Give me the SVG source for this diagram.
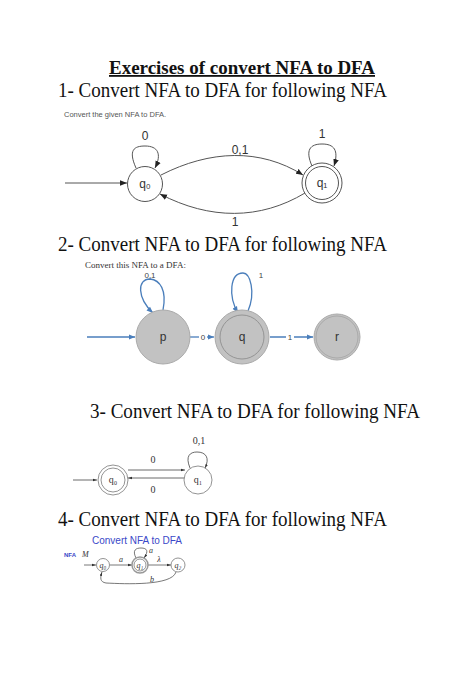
<svg xmlns="http://www.w3.org/2000/svg" width="465" height="700" viewBox="0 0 465 700">
<defs>
<style>
.h{font-family:"Liberation Serif","Times New Roman",serif;fill:#111;font-size:20px}
.t{font-family:"Liberation Serif","Times New Roman",serif;font-weight:bold;font-size:18px;fill:#111;text-decoration:underline}
.s1{font-family:"Liberation Sans",Arial,sans-serif;font-size:12px;fill:#333;text-anchor:middle}
.e1{fill:none;stroke:#555;stroke-width:1}
.n1{fill:#fff;stroke:#555;stroke-width:1}
.e2{fill:none;stroke:#4a7ebb;stroke-width:1.3}
.n2{fill:#c2c2c2;stroke:#aaa;stroke-width:1}
.s2{font-family:"Liberation Sans",Arial,sans-serif;font-size:8px;fill:#444;text-anchor:middle}
.e3{fill:none;stroke:#444;stroke-width:0.8}
.n3{fill:#fff;stroke:#777;stroke-width:0.8}
.s3{font-family:"Liberation Serif","Times New Roman",serif;font-size:10px;fill:#333;text-anchor:middle}
.e4{fill:none;stroke:#555;stroke-width:0.8}
.s4{font-family:"Liberation Serif","Times New Roman",serif;font-style:italic;font-size:8px;fill:#333;text-anchor:middle}
</style>
<marker id="a1" viewBox="0 0 10 10" refX="10" refY="5" markerWidth="7" markerHeight="7" orient="auto"><path d="M0,1 L10,5 L0,9 z" fill="#222"/></marker>
<marker id="a2" viewBox="0 0 10 10" refX="10" refY="5" markerWidth="5" markerHeight="5" orient="auto"><path d="M0,1 L10,5 L0,9 z" fill="#4a7ebb"/></marker>
<marker id="a3" viewBox="0 0 10 10" refX="10" refY="5" markerWidth="5" markerHeight="5" orient="auto"><path d="M0,2 L10,5 L0,8 z" fill="#333"/></marker>
</defs>
<rect width="465" height="700" fill="#fff"/>

<g id="headings">
<text class="t" x="109" y="74" textLength="266" lengthAdjust="spacingAndGlyphs">Exercises of convert NFA to DFA</text>
<text class="h" x="58" y="97" textLength="329" lengthAdjust="spacingAndGlyphs">1- Convert NFA to DFA for following NFA</text>
<text class="h" x="58" y="251" textLength="329" lengthAdjust="spacingAndGlyphs">2- Convert NFA to DFA for following NFA</text>
<text class="h" x="90" y="418" textLength="330" lengthAdjust="spacingAndGlyphs">3- Convert NFA to DFA for following NFA</text>
<text class="h" x="58" y="526" textLength="329" lengthAdjust="spacingAndGlyphs">4- Convert NFA to DFA for following NFA</text>
</g>

<!-- Diagram 1 -->
<g id="d1-caption"><text x="64" y="117" font-family="Liberation Sans, Arial, sans-serif" font-size="7.5" fill="#555">Convert the given NFA to DFA.</text></g>
<g id="d1-edges">
<line class="e1" x1="65" y1="183" x2="127" y2="183" marker-end="url(#a1)"/>
<path class="e1" d="M136,168 C128,150 134,146 145,146 C158,146 162,154 155,168" marker-end="url(#a1)"/>
<path class="e1" d="M161,175 C210,150 260,148 303,175" marker-end="url(#a1)"/>
<path class="e1" d="M305,193 C260,220 210,220 160,194" marker-end="url(#a1)"/>
<path class="e1" d="M312,166 C305,150 310,144 322,144 C334,144 339,150 334,166" marker-end="url(#a1)"/>
<text class="s1" x="145" y="140">0</text>
<text class="s1" x="240" y="154">0,1</text>
<text class="s1" x="235" y="226">1</text>
<text class="s1" x="322" y="138">1</text>
</g>
<g id="d1-q0"><circle class="n1" cx="145" cy="184" r="17.5"/><text class="s1" x="145" y="188" font-size="10">q₀</text></g>
<g id="d1-q1"><circle class="n1" cx="322" cy="183" r="20"/><circle class="n1" cx="322" cy="183" r="16.5"/><text class="s1" x="322" y="187" font-size="10">q₁</text></g>

<!-- Diagram 2 -->
<g id="d2-caption"><text x="85" y="268" font-family="Liberation Serif, Times New Roman, serif" font-size="9" fill="#333">Convert this NFA to a DFA:</text></g>
<g id="d2-edges">
<line class="e2" x1="87" y1="337" x2="135" y2="337" marker-end="url(#a2)"/>
<line class="e2" x1="190" y1="337" x2="214" y2="337" marker-end="url(#a2)"/>
<line class="e2" x1="270" y1="337" x2="313" y2="337" marker-end="url(#a2)"/>
<path class="e2" d="M163,310 C167,290 160,280 150,279 C137,279 137,298 153,313" marker-end="url(#a2)"/>
<path class="e2" d="M248,311 C256,292 250,273 243,273 C230,273 228,296 238,313" marker-end="url(#a2)"/>
<rect x="199" y="333" width="8" height="8" fill="#fff"/>
<rect x="286" y="333" width="8" height="8" fill="#fff"/>
<text class="s2" x="203" y="340">0</text>
<text class="s2" x="290" y="340">1</text>
<text class="s2" x="150" y="278">0,1</text>
<text class="s2" x="261" y="278">1</text>
</g>
<g id="d2-p"><circle class="n2" cx="163" cy="337" r="27"/><text class="s1" x="163" y="341" font-size="11">p</text></g>
<g id="d2-q"><circle class="n2" cx="242" cy="337" r="27"/><circle fill="none" stroke="#888" stroke-width="0.8" cx="242" cy="337" r="22"/><text class="s1" x="242" y="341" font-size="11">q</text></g>
<g id="d2-r"><circle class="n2" cx="337" cy="337" r="23"/><circle fill="none" stroke="#999" stroke-width="0.6" cx="337" cy="337" r="21"/><text class="s1" x="337" y="341" font-size="11">r</text></g>

<!-- Diagram 3 -->
<g id="d3-edges">
<line class="e3" x1="73" y1="480" x2="97" y2="480" marker-end="url(#a3)"/>
<line class="e3" x1="128" y1="470" x2="185" y2="470" marker-end="url(#a3)"/>
<line class="e3" x1="185" y1="478" x2="128" y2="478" marker-end="url(#a3)"/>
<path class="e3" d="M190,468 C185,456 190,452 197,452 C206,452 210,458 205,468" marker-end="url(#a3)"/>
<text class="s3" x="153" y="463">0</text>
<text class="s3" x="153" y="493">0</text>
<text class="s3" x="199" y="444">0,1</text>
</g>
<g id="d3-q0"><circle class="n3" cx="113" cy="480" r="15"/><circle class="n3" cx="113" cy="480" r="12"/><text class="s3" x="113" y="483" font-size="9">q₀</text></g>
<g id="d3-q1"><circle class="n3" cx="198" cy="480" r="14"/><text class="s3" x="198" y="483" font-size="9">q₁</text></g>

<!-- Diagram 4 -->
<g id="d4-caption">
<text x="92" y="544" font-family="Liberation Sans, Arial, sans-serif" font-size="10" fill="#3a48c8">Convert NFA to DFA</text>
<text x="64" y="557" font-family="Liberation Sans, Arial, sans-serif" font-size="6" font-weight="bold" fill="#3a48c8">NFA</text>
<text x="82" y="557" font-family="Liberation Serif, Times New Roman, serif" font-size="8" font-style="italic" fill="#333">M</text>
</g>
<g id="d4-edges">
<line class="e4" x1="84" y1="565" x2="96" y2="565" marker-end="url(#a3)"/>
<line class="e4" x1="110" y1="565" x2="132" y2="565" marker-end="url(#a3)"/>
<line class="e4" x1="148" y1="565" x2="171" y2="565" marker-end="url(#a3)"/>
<path class="e4" d="M136,558 C132,550 136,548 141,548 C147,548 149,551 144,558" marker-end="url(#a3)"/>
<path class="e4" d="M176,572 C172,586 125,584 106,583 C100,582 100,578 102,572" marker-end="url(#a3)"/>
<text class="s4" x="121" y="562">a</text>
<text class="s4" x="159" y="562" font-style="normal">λ</text>
<text class="s4" x="151" y="553" font-size="7">a</text>
<text class="s4" x="152" y="582">b</text>
</g>
<g id="d4-q0"><circle class="n3" cx="103" cy="565" r="6.5"/><text class="s4" x="103" y="567.5" font-size="7">q₀</text></g>
<g id="d4-q1"><circle fill="#fff" stroke="#999" stroke-width="1.5" cx="140" cy="565" r="8"/><circle class="n3" cx="140" cy="565" r="6"/><text class="s4" x="140" y="567.5" font-size="7">q₁</text></g>
<g id="d4-q2"><circle class="n3" cx="178" cy="565" r="7"/><text class="s4" x="178" y="567.5" font-size="7">q₂</text></g>
</svg>
